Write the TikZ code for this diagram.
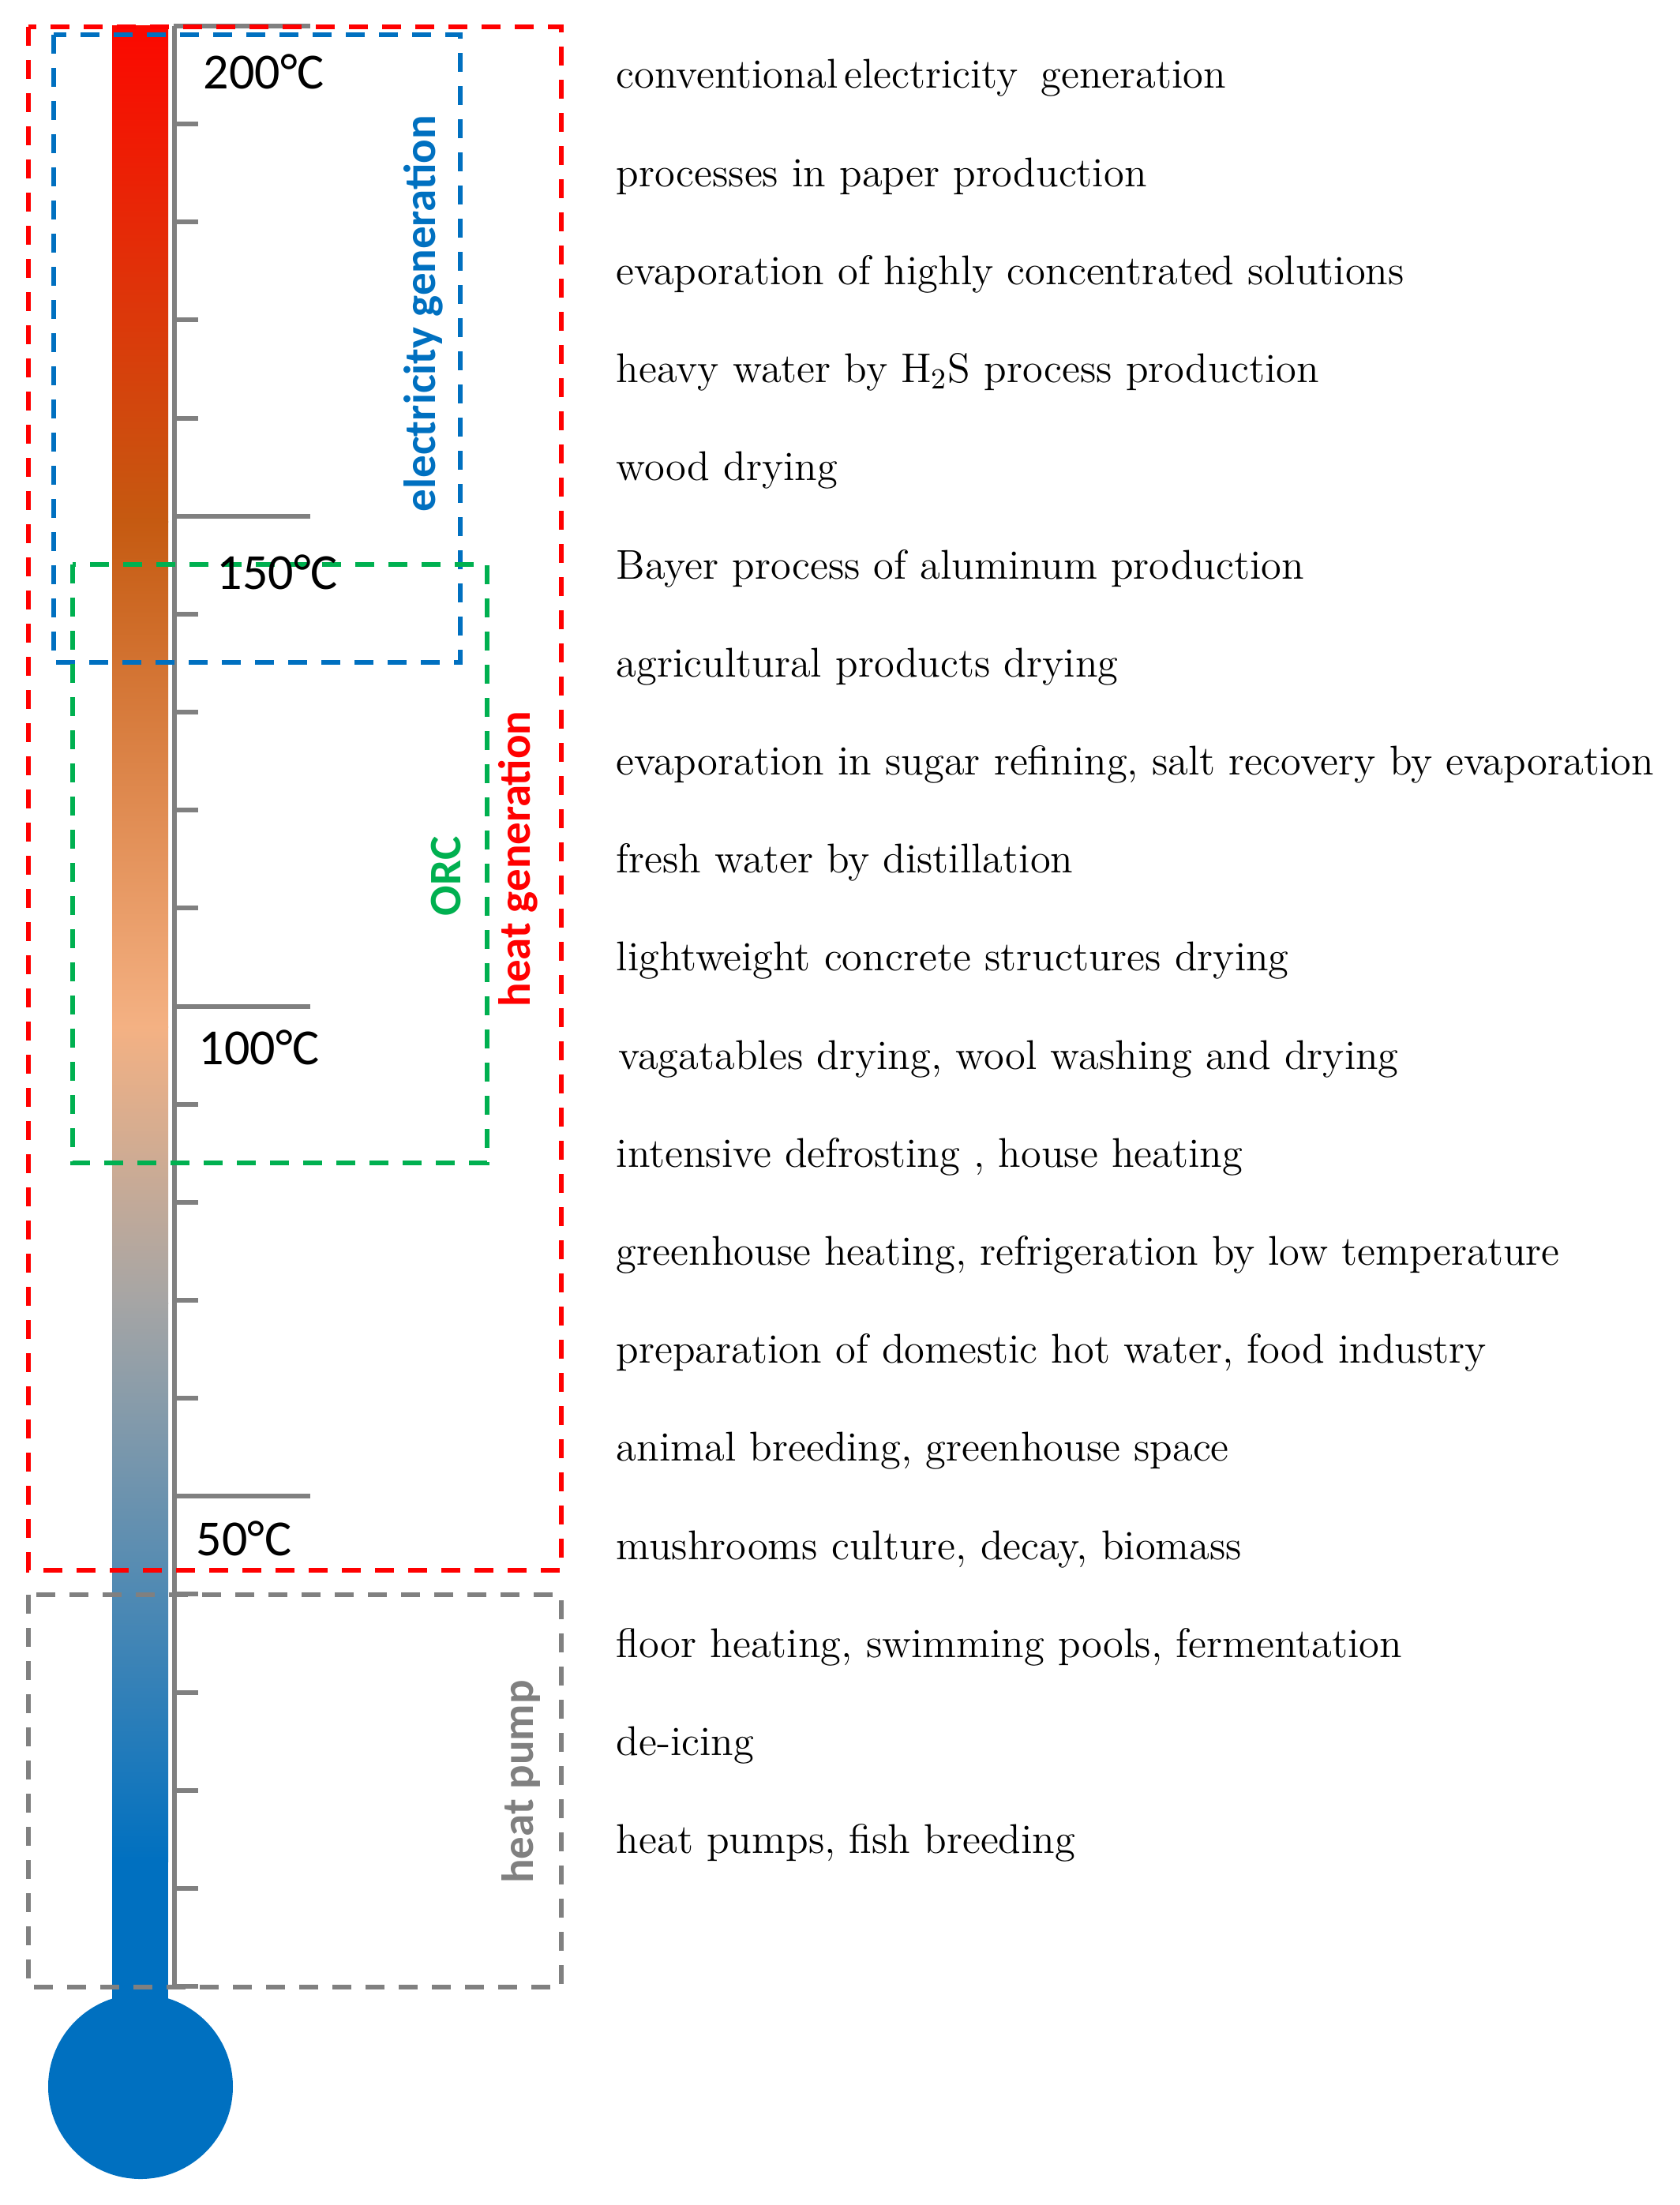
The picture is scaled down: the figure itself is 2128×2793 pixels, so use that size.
\documentclass[tikz,border=0pt]{standalone}
\usepackage{fontspec}
\newfontfamily\carl{Carlito}
\newfontfamily\carlnk{Carlito}[Kerning=Off]
\definecolor{ored}{RGB}{255,0,0}
\definecolor{oblue}{RGB}{0,112,192}
\definecolor{ogreen}{RGB}{0,176,80}
\definecolor{ogray}{RGB}{128,128,128}
\definecolor{otop}{RGB}{252,8,0}
\definecolor{obrown}{RGB}{197,90,17}
\definecolor{opeach}{RGB}{244,177,131}
\definecolor{olgray}{RGB}{165,165,165}
\begin{document}
\begin{tikzpicture}[x=0.25pt,y=-0.25pt,
  box/.style={line width=1.5pt, dash pattern=on 6pt off 4.5pt},
  tick/.style={ogray, line width=1.5pt},
  app/.style={anchor=base west, inner sep=0pt, font=\fontsize{13.15pt}{15.5pt}\selectfont},
  deg/.style={anchor=base west, inner sep=0pt, font=\carlnk\fontsize{16pt}{19pt}\selectfont},
  vlab/.style={anchor=base, inner sep=0pt, rotate=90, font=\carl\bfseries\fontsize{14.25pt}{17pt}\selectfont}]
\useasboundingbox (0,0) rectangle (2128,2793);
% thermometer tube (piecewise gradient)
\shade[top color=otop, bottom color=obrown] (142,33) rectangle (213,661);
\shade[top color=obrown, bottom color=opeach] (142,660) rectangle (213,1301);
\shade[top color=opeach, bottom color=olgray] (142,1300) rectangle (213,1651);
\shade[top color=olgray, bottom color=oblue] (142,1650) rectangle (213,2358);
\fill[oblue] (142,2357) rectangle (213,2600);
% bulb
\fill[oblue] (178,2643) circle (29.25pt);
% scale
\draw[ogray, line width=1.5pt] (220.5,33) -- (220.5,2517);
\foreach \k in {1,2,3,4,6,7,8,9,11,12,13,14,16,17,18,19,20}
  \draw[tick] (220,{33+\k*124.15}) -- (251,{33+\k*124.15});
\foreach \k in {0,5,10,15}
  \draw[tick] (220,{33+\k*124.15}) -- (393,{33+\k*124.15});
% dashed boxes
\draw[box, ored] (36,34) rectangle (711,1989);
\draw[box, oblue] (68,44) rectangle (583,839);
\draw[box, ogreen] (92,715) rectangle (617,1473);
\draw[box, ogray] (36,2020) rectangle (711,2517);
% temperature labels
\node[deg] (t200) at (257,113) {200°C};
\node[deg] (t150) at (274,746) {150°C};
\node[deg] (t100) at (251,1348) {100°C};
\node[deg] (t50) at (248,1970) {50°C};
% vertical labels
\node[vlab, oblue] (elec) at (551,397) {electricity generation};
\node[vlab, ored] (heatgen) at (671,1088) {heat generation};
\node[vlab, ogreen] (orc) at (583,1110) {ORC};
\node[vlab, ogray] (hp) at (675,2257) {heat pump};
% applications
\node[app] (r0) at (780,112) {conventional\hspace{0.15em}electricity\hspace{0.55em}generation};
\node[app] (r1) at (780,236.2) {processes in paper production};
\node[app] (r2) at (780,360.4) {evaporation of highly concentrated solutions};
\node[app] (r3) at (780,484.6) {heavy water by H\textsubscript{2}S process production};
\node[app] (r4) at (780,608.8) {wood drying};
\node[app] (r5) at (780,733) {Bayer process of aluminum production};
\node[app] (r6) at (780,857.2) {agricultural products drying};
\node[app] (r7) at (780,981.4) {evaporation in sugar refining, salt recovery by evaporation};
\node[app] (r8) at (780,1105.6) {fresh water by distillation};
\node[app] (r9) at (780,1229.8) {lightweight concrete structures drying};
\node[app] (r10) at (783,1354) {vagatables drying, wool washing and drying};
\node[app] (r11) at (780,1478.2) {intensive defrosting , house heating};
\node[app] (r12) at (780,1602.4) {greenhouse heating, refrigeration by low temperature};
\node[app] (r13) at (780,1726.6) {preparation of domestic hot water, food industry};
\node[app] (r14) at (780,1850.8) {animal breeding, greenhouse space};
\node[app] (r15) at (780,1975) {mushrooms culture, decay, biomass};
\node[app] (r16) at (780,2099.2) {floor heating, swimming pools, fermentation};
\node[app] (r17) at (780,2223.4) {de-icing};
\node[app] (r18) at (780,2347.6) {heat pumps, fish breeding};
\end{tikzpicture}
\end{document}
